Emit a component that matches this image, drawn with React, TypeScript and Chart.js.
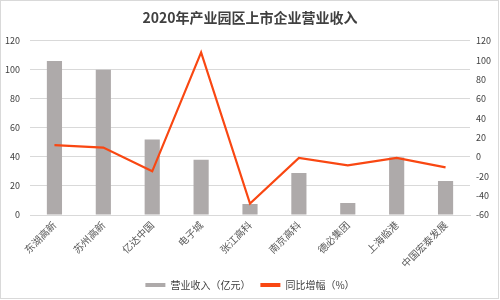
import React, { useEffect, useRef } from "react";
import { Chart, registerables } from "chart.js";

Chart.register(...registerables);

const categories = ["东湖高新", "苏州高新", "亿达中国", "电子城", "张江高科", "南京高科", "德必集团", "上海临港", "中国宏泰发展"];
const revenue = [106, 100, 52, 38, 7.6, 29, 8.3, 39.6, 23.4];
const growth = [12.2, 9.7, -14.9, 108, -48.2, -1, -8.7, -1, -10.8];
const leftTicks = [0, 20, 40, 60, 80, 100, 120];
const rightTicks = [-60, -40, -20, 0, 20, 40, 60, 80, 100, 120];
const titleText = "2020年产业园区上市企业营业收入";
const barLabel = "营业收入（亿元）";
const lineLabel = "同比增幅（%）";

const FONT = "'Noto Sans CJK SC', 'Noto Sans', sans-serif";
const BAR_COLOR = "#AEAAAA";
const LINE_COLOR = "#F94712";

const borderPlugin = {
  id: "outerBorder",
  afterDraw(chart: any) {
    const ctx = chart.ctx;
    ctx.save();
    ctx.strokeStyle = "#d9d9d9";
    ctx.lineWidth = 1;
    ctx.strokeRect(0.5, 0.5, chart.width - 2, chart.height - 2);
    ctx.restore();
  },
};

export default function App() {
  const ref = useRef<HTMLCanvasElement>(null);
  useEffect(() => {
    document.body.style.margin = "0";
    const chart = new Chart(ref.current!, {
      type: "bar",
      data: {
        labels: categories,
        datasets: [
          {
            type: "line",
            label: lineLabel,
            data: growth,
            yAxisID: "y1",
            borderColor: LINE_COLOR,
            backgroundColor: LINE_COLOR,
            borderWidth: 2.2,
            pointRadius: 0,
            tension: 0,
            order: 0,
          } as any,
          {
            type: "bar",
            label: barLabel,
            data: revenue,
            yAxisID: "y",
            backgroundColor: BAR_COLOR,
            barPercentage: 0.62,
            categoryPercentage: 0.5,
            order: 1,
          },
        ],
      },
      options: {
        animation: false,
        responsive: false,
        layout: { padding: { left: 0, right: 0, top: 0, bottom: 0 } },
        plugins: {
          title: {
            display: true,
            text: titleText,
            color: "#404040",
            font: { family: FONT, size: 14, weight: "bold" },
            padding: { top: 9, bottom: 15 },
          },
          legend: {
            position: "bottom",
            labels: {
              color: "#404040",
              font: { family: FONT, size: 10 },
              boxWidth: 20,
              boxHeight: 4,
              padding: 10,
              generateLabels() {
                return [
                  { text: barLabel, fillStyle: BAR_COLOR, strokeStyle: BAR_COLOR, lineWidth: 0, datasetIndex: 1, fontColor: "#404040" },
                  { text: lineLabel, fillStyle: LINE_COLOR, strokeStyle: LINE_COLOR, lineWidth: 0, datasetIndex: 0, fontColor: "#404040" },
                ] as any;
              },
            },
          },
          tooltip: { enabled: false },
        },
        scales: {
          x: {
            grid: { display: false, drawTicks: false },
            border: { display: true, color: "#d9d9d9" },
            ticks: {
              color: "#595959",
              font: { family: FONT, size: 10 },
              minRotation: 45,
              maxRotation: 45,
              padding: 4,
              autoSkip: false,
            },
            afterFit(scale: any) {
              scale.height = 55;
            },
          },
          y: {
            position: "left",
            min: 0,
            max: 120,
            afterBuildTicks(scale: any) {
              scale.ticks = leftTicks.map((v) => ({ value: v }));
            },
            grid: { color: "#d9d9d9", drawTicks: false },
            border: { display: false },
            ticks: {
              color: "#404040",
              font: { family: FONT, size: 9 },
              padding: 10,
            },
            afterFit(scale: any) {
              scale.width = 30;
            },
          },
          y1: {
            position: "right",
            min: -60,
            max: 120,
            afterBuildTicks(scale: any) {
              scale.ticks = rightTicks.map((v) => ({ value: v }));
            },
            grid: { display: false, drawTicks: false },
            border: { display: false },
            ticks: {
              color: "#404040",
              font: { family: FONT, size: 9 },
              padding: 6,
            },
            afterFit(scale: any) {
              scale.width = 30;
            },
          },
        },
      },
      plugins: [borderPlugin],
    });
    return () => chart.destroy();
  }, []);
  return (
    <div style={{ width: 500, height: 300, background: "#fff" }}>
      <canvas ref={ref} width={500} height={300} style={{ display: "block" }} />
    </div>
  );
}
